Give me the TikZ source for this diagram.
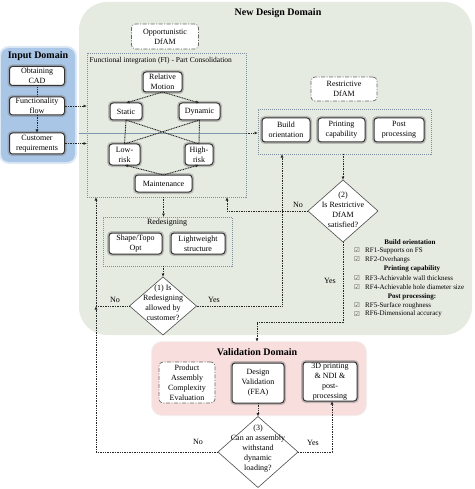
\documentclass[tikz,border=0pt]{standalone}
\usepackage{fontspec}
\setmainfont{Liberation Serif}
\newfontfamily\symfont{DejaVu Sans}
\usetikzlibrary{arrows.meta,shapes.geometric}
\definecolor{greenbg}{HTML}{E6EBE2}
\definecolor{bluebg}{HTML}{A9C6E7}
\definecolor{pinkbg}{HTML}{F9DEDE}
\definecolor{lineblue}{HTML}{7F97AA}
\definecolor{framec}{HTML}{8090A2}
\begin{document}
\begin{tikzpicture}[x=1pt,y=-1pt,
  bx/.style={rectangle, rounded corners=3pt, draw=black!80, line width=1pt, fill=white,
    align=center, inner sep=0pt, outer sep=0pt, font=\fontsize{8}{10}\selectfont,
    preaction={draw=black!50, line width=4pt, opacity=0.45}},
  ddbx/.style={rectangle, rounded corners=4pt, draw=black!60, line width=0.7pt,
    dash pattern=on 4pt off 1.5pt on 1pt off 1.5pt, fill=white, align=center,
    inner sep=0pt, outer sep=0pt, font=\fontsize{8}{10}\selectfont},
  regbox/.style={rectangle, draw=framec, line width=0.5pt, dash pattern=on 1pt off 1pt,
    inner sep=0pt, outer sep=0pt},
  dia/.style={diamond, draw=black!70, fill=white, line width=0.6pt, inner sep=0pt, outer sep=0pt},
  dtxt/.style={align=center, inner sep=0pt, font=\fontsize{8}{10}\selectfont},
  ttl/.style={inner sep=0pt, font=\fontsize{10}{12}\selectfont\bfseries},
  lbl/.style={inner sep=0pt, font=\fontsize{8}{10}\selectfont},
  hd/.style={inner sep=0pt, font=\fontsize{7}{9}\selectfont\bfseries},
  itm/.style={inner sep=0pt, anchor=west, font=\fontsize{7}{9}\selectfont},
  ck/.style={inner sep=0pt, font=\symfont\fontsize{6.5}{7}\selectfont, text=black!70},
  con/.style={draw=black!85, line width=0.9pt, dash pattern=on 1pt off 0.7pt},
  arr/.style={con, -{Latex[length=3.5pt,width=3pt]}},
  hline/.style={draw=lineblue, line width=0.7pt}
]
\useasboundingbox (0,0) rectangle (474,489);

% backgrounds
\node[rectangle, rounded corners=28pt, fill=greenbg, minimum width=393pt, minimum height=333pt, inner sep=0pt] (ndd) at (275.5,168.5) {};
\node[rectangle, rounded corners=8pt, fill=bluebg, minimum width=74pt, minimum height=114pt, inner sep=0pt,
  preaction={draw=bluebg!40, line width=4pt}] (inbg) at (38,105) {};
\node[rectangle, rounded corners=10pt, fill=pinkbg, minimum width=214pt, minimum height=73pt, inner sep=0pt,
  preaction={draw=pinkbg!80!black!20, line width=2pt}] (valbg) at (259,378.5) {};

% titles
\node[ttl] (ndt) at (278,13) {New Design Domain};
\node[ttl] (int) at (38,56) {Input Domain};
\node[ttl] (valt) at (257,352) {Validation Domain};

% input domain boxes
\node[bx, minimum width=55pt, minimum height=19pt] (cad) at (37,76) {Obtaining\\CAD};
\node[bx, minimum width=55pt, minimum height=18pt] (flow) at (37,106) {Functionality\\flow};
\node[bx, minimum width=55pt, minimum height=21pt] (req) at (37,143.5) {Customer\\requirements};

% opportunistic
\node[ddbx, minimum width=67pt, minimum height=25pt] (opp) at (165,36.5) {Opportunistic\\DfAM};

% FI region
\node[regbox, minimum width=159pt, minimum height=144pt] (fi) at (166.5,125) {};
\node[inner sep=0pt, anchor=west, font=\fontsize{7.5}{9}\selectfont] (fit) at (89.5,60.5) {Functional integration (FI) - Part Consolidation};

\coordinate (hl0) at (79,133);
\draw[hline] (hl0) -- (hl0 -| fi.east);

\node[bx, minimum width=39pt, minimum height=20pt] (rm) at (162.5,82) {Relative\\Motion};
\node[bx, minimum width=32pt, minimum height=17pt] (st) at (126,111.5) {Static};
\node[bx, minimum width=41pt, minimum height=17pt] (dy) at (199.5,111.5) {Dynamic};
\node[bx, minimum width=31pt, minimum height=21pt] (lo) at (124.5,154.5) {Low-\\risk};
\node[bx, minimum width=28pt, minimum height=21pt] (hi) at (199,154.5) {High-\\risk};
\node[bx, minimum width=57pt, minimum height=17pt] (mt) at (163.5,183.5) {Maintenance};

% restrictive
\node[ddbx, minimum width=66pt, minimum height=24pt] (res) at (344,89) {Restrictive\\DfAM};
\node[regbox, minimum width=173pt, minimum height=45pt] (rbox) at (344.5,131.5) {};
\node[bx, minimum width=48pt, minimum height=24pt] (bo) at (286,130) {Build\\orientation};
\node[bx, minimum width=47pt, minimum height=24pt] (pc) at (341.5,130) {Printing\\capability};
\node[bx, minimum width=50pt, minimum height=24pt] (pp) at (399,130) {Post\\processing};

% redesigning
\node[regbox, minimum width=129pt, minimum height=49pt] (redes) at (167.5,241.5) {};
\node[lbl] (redt) at (167,223) {Redesigning};
\node[bx, minimum width=53pt, minimum height=21pt] (sto) at (135.5,243.5) {Shape/Topo\\Opt};
\node[bx, minimum width=54pt, minimum height=21pt] (lws) at (198,243.5) {Lightweight\\structure};

% diamonds
\node[dia, minimum width=70pt, minimum height=62pt] (d2) at (343,211) {};
\node[dtxt] (d2t) at (343,209.5) {(2)\\Is Restrictive\\DfAM\\satisfied?};
\node[dia, minimum width=67pt, minimum height=58pt] (d1) at (163,306) {};
\node[dtxt] (d1t) at (163,302.5) {(1) Is\\Redesigning\\allowed by\\customer?};
\node[dia, minimum width=80pt, minimum height=71pt] (d3) at (258,452) {};
\node[dtxt] (d3t) at (258,448.5) {(3)\\Can an assembly\\withstand\\dynamic\\loading?};

% validation boxes
\node[ddbx, minimum width=56pt, minimum height=41pt] (pace) at (187,382.5) {Product\\Assembly\\Complexity\\Evaluation};
\node[bx, minimum width=52pt, minimum height=40pt] (dv) at (258,383) {Design\\Validation\\(FEA)};
\node[bx, minimum width=54pt, minimum height=39pt] (p3d) at (330,381.5) {3D printing\\\& NDI \&\\post-\\processing};

% checklist
\node[hd] (h1) at (410,242) {Build orientation};
\node[ck] (k1) at (357,250.5) {☑};
\node[itm] (r1) at (365,250.5) {RF1-Supports on FS};
\node[ck] (k2) at (357,259.5) {☑};
\node[itm] (r2) at (365,259.5) {RF2-Overhangs};
\node[hd] (h2) at (412,269) {Printing capability};
\node[ck] (k3) at (357,278) {☑};
\node[itm] (r3) at (365,278) {RF3-Achievable wall thickness};
\node[ck] (k4) at (357,287) {☑};
\node[itm] (r4) at (365,287) {RF4-Achievable hole diameter size};
\node[hd] (h3) at (412,296.5) {Post processing:};
\node[ck] (k5) at (357,305.5) {☑};
\node[itm] (r5) at (365,305.5) {RF5-Surface roughness};
\node[ck] (k6) at (357,314) {☑};
\node[itm] (r6) at (365,314) {RF6-Dimensional accuracy};

% labels
\node[lbl] (no2) at (298,205) {No};
\node[lbl] (yes2) at (330,281) {Yes};
\node[lbl] (no1) at (115,300) {No};
\node[lbl] (yes1) at (214,300) {Yes};
\node[lbl] (no3) at (198,442) {No};
\node[lbl] (yes3) at (313,443) {Yes};

% coordinates
\coordinate (L1) at (96,306);
\coordinate (L3) at (96,452);
\coordinate (Y1) at (282,306);
\coordinate (N2) at (227,211);
\coordinate (Y2a) at (343,322);
\coordinate (Y2b) at (257,322);
\coordinate (Y3) at (332,452);

% connectors: input domain
\draw[con] (cad) -- (flow);
\draw[arr] (flow) -- (req);
\draw[arr] (flow.east) -- (flow.east -| fi.west);
\draw[arr] (req.east) -- (req.east -| fi.west);

% horizontal into restrictive
\draw[arr] (hl0 -| fi.east) -- (hl0 -| rbox.west);

% FI internal
\draw[arr] (rm.south) -- (st.north);
\draw[arr] (rm.south) -- (dy.north);
\draw[con] (st.south) -- (lo.north);
\draw[con] (dy.south) -- (hi.north);
\draw[con] (st.south) -- (hi.north);
\draw[con] (dy.south) -- (lo.north);
\draw[arr] (mt.north) -- (lo.south);
\draw[arr] (mt.north) -- (hi.south);

% FI to redesigning to d1
\draw[arr] (mt |- fi.south) -- (mt |- redes.north);
\draw[arr] (d1 |- redes.south) -- (d1.north);

% d1 No / d3 No
\draw[con] (d1.west) -- (L1);
\draw[arr] (d3.west) -- (L3) -- (L1);
\draw[arr] (L1) -- (L1 |- fi.south);

% d1 Yes
\draw[arr] (d1.east) -- (Y1) -- (Y1 |- rbox.south);

% restrictive to d2
\draw[arr] (d2 |- rbox.south) -- (d2.north);
\draw[arr] (d2.west) -- (N2) -- (N2 |- fi.south);
\draw[arr] (d2.south) -- (Y2a) -- (Y2b) -- (Y2b |- valbg.north);

% validation
\draw[arr] (dv.south) -- (d3.north);
\draw[arr] (d3.east) -- (Y3) -- (Y3 |- p3d.south);
\end{tikzpicture}
\end{document}
